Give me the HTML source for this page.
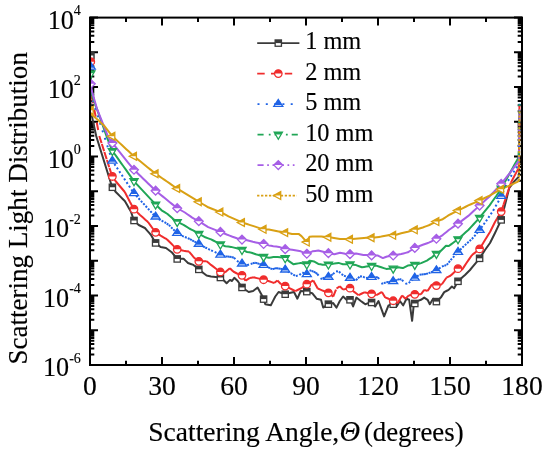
<!DOCTYPE html>
<html><head><meta charset="utf-8"><style>html,body{margin:0;padding:0;background:#fff;}svg{display:block;}</style></head>
<body><svg width="550" height="452" viewBox="0 0 550 452"><defs><clipPath id="pc"><rect x="90.0" y="17.6" width="432.0" height="347.4"/></clipPath></defs><rect width="550" height="452" fill="#fff"/><path d="M90.0,365.00h8M522.0,365.00h-8M90.0,354.54h4.3M522.0,354.54h-4.3M90.0,348.42h4.3M522.0,348.42h-4.3M90.0,344.08h4.3M522.0,344.08h-4.3M90.0,340.72h4.3M522.0,340.72h-4.3M90.0,337.97h4.3M522.0,337.97h-4.3M90.0,335.64h4.3M522.0,335.64h-4.3M90.0,333.63h4.3M522.0,333.63h-4.3M90.0,331.85h4.3M522.0,331.85h-4.3M90.0,330.26h8M522.0,330.26h-8M90.0,319.80h4.3M522.0,319.80h-4.3M90.0,313.68h4.3M522.0,313.68h-4.3M90.0,309.34h4.3M522.0,309.34h-4.3M90.0,305.98h4.3M522.0,305.98h-4.3M90.0,303.23h4.3M522.0,303.23h-4.3M90.0,300.90h4.3M522.0,300.90h-4.3M90.0,298.89h4.3M522.0,298.89h-4.3M90.0,297.11h4.3M522.0,297.11h-4.3M90.0,295.52h8M522.0,295.52h-8M90.0,285.06h4.3M522.0,285.06h-4.3M90.0,278.94h4.3M522.0,278.94h-4.3M90.0,274.60h4.3M522.0,274.60h-4.3M90.0,271.24h4.3M522.0,271.24h-4.3M90.0,268.49h4.3M522.0,268.49h-4.3M90.0,266.16h4.3M522.0,266.16h-4.3M90.0,264.15h4.3M522.0,264.15h-4.3M90.0,262.37h4.3M522.0,262.37h-4.3M90.0,260.78h8M522.0,260.78h-8M90.0,250.32h4.3M522.0,250.32h-4.3M90.0,244.20h4.3M522.0,244.20h-4.3M90.0,239.86h4.3M522.0,239.86h-4.3M90.0,236.50h4.3M522.0,236.50h-4.3M90.0,233.75h4.3M522.0,233.75h-4.3M90.0,231.42h4.3M522.0,231.42h-4.3M90.0,229.41h4.3M522.0,229.41h-4.3M90.0,227.63h4.3M522.0,227.63h-4.3M90.0,226.04h8M522.0,226.04h-8M90.0,215.58h4.3M522.0,215.58h-4.3M90.0,209.46h4.3M522.0,209.46h-4.3M90.0,205.12h4.3M522.0,205.12h-4.3M90.0,201.76h4.3M522.0,201.76h-4.3M90.0,199.01h4.3M522.0,199.01h-4.3M90.0,196.68h4.3M522.0,196.68h-4.3M90.0,194.67h4.3M522.0,194.67h-4.3M90.0,192.89h4.3M522.0,192.89h-4.3M90.0,191.30h8M522.0,191.30h-8M90.0,180.84h4.3M522.0,180.84h-4.3M90.0,174.72h4.3M522.0,174.72h-4.3M90.0,170.38h4.3M522.0,170.38h-4.3M90.0,167.02h4.3M522.0,167.02h-4.3M90.0,164.27h4.3M522.0,164.27h-4.3M90.0,161.94h4.3M522.0,161.94h-4.3M90.0,159.93h4.3M522.0,159.93h-4.3M90.0,158.15h4.3M522.0,158.15h-4.3M90.0,156.56h8M522.0,156.56h-8M90.0,146.10h4.3M522.0,146.10h-4.3M90.0,139.98h4.3M522.0,139.98h-4.3M90.0,135.64h4.3M522.0,135.64h-4.3M90.0,132.28h4.3M522.0,132.28h-4.3M90.0,129.53h4.3M522.0,129.53h-4.3M90.0,127.20h4.3M522.0,127.20h-4.3M90.0,125.19h4.3M522.0,125.19h-4.3M90.0,123.41h4.3M522.0,123.41h-4.3M90.0,121.82h8M522.0,121.82h-8M90.0,111.36h4.3M522.0,111.36h-4.3M90.0,105.24h4.3M522.0,105.24h-4.3M90.0,100.90h4.3M522.0,100.90h-4.3M90.0,97.54h4.3M522.0,97.54h-4.3M90.0,94.79h4.3M522.0,94.79h-4.3M90.0,92.46h4.3M522.0,92.46h-4.3M90.0,90.45h4.3M522.0,90.45h-4.3M90.0,88.67h4.3M522.0,88.67h-4.3M90.0,87.08h8M522.0,87.08h-8M90.0,76.62h4.3M522.0,76.62h-4.3M90.0,70.50h4.3M522.0,70.50h-4.3M90.0,66.16h4.3M522.0,66.16h-4.3M90.0,62.80h4.3M522.0,62.80h-4.3M90.0,60.05h4.3M522.0,60.05h-4.3M90.0,57.72h4.3M522.0,57.72h-4.3M90.0,55.71h4.3M522.0,55.71h-4.3M90.0,53.93h4.3M522.0,53.93h-4.3M90.0,52.34h8M522.0,52.34h-8M90.0,41.88h4.3M522.0,41.88h-4.3M90.0,35.76h4.3M522.0,35.76h-4.3M90.0,31.42h4.3M522.0,31.42h-4.3M90.0,28.06h4.3M522.0,28.06h-4.3M90.0,25.31h4.3M522.0,25.31h-4.3M90.0,22.98h4.3M522.0,22.98h-4.3M90.0,20.97h4.3M522.0,20.97h-4.3M90.0,19.19h4.3M522.0,19.19h-4.3M90.0,17.60h8M522.0,17.60h-8M90.00,365.0v-8M90.00,17.6v8M126.00,365.0v-4.3M126.00,17.6v4.3M162.00,365.0v-8M162.00,17.6v8M198.00,365.0v-4.3M198.00,17.6v4.3M234.00,365.0v-8M234.00,17.6v8M270.00,365.0v-4.3M270.00,17.6v4.3M306.00,365.0v-8M306.00,17.6v8M342.00,365.0v-4.3M342.00,17.6v4.3M378.00,365.0v-8M378.00,17.6v8M414.00,365.0v-4.3M414.00,17.6v4.3M450.00,365.0v-8M450.00,17.6v8M486.00,365.0v-4.3M486.00,17.6v4.3M522.00,365.0v-8M522.00,17.6v8" stroke="#000" stroke-width="2" fill="none"/><g clip-path="url(#pc)"><path d="M519.00,176.50L519.50,112.00" fill="none" stroke="#3a3a3a" stroke-width="2.0"/><polyline points="90.80,55.50 90.40,100.00 91.00,112.00 93.60,124.00 96.20,136.00 98.46,143.24 100.71,150.49 102.97,157.73 105.23,164.97 107.49,172.21 109.74,179.46 112.00,186.70 115.50,191.70 117.83,194.02 120.15,196.35 122.47,198.68 124.80,201.00 126.87,204.60 128.93,208.20 131.00,211.80 133.80,220.30 136.25,222.65 138.70,225.00 140.77,226.00 142.83,227.00 144.90,228.00 146.93,230.33 148.97,232.67 151.00,235.00 153.15,238.85 155.30,242.70 157.95,244.85 160.60,247.00 163.30,247.50 166.00,248.00 169.00,250.25 172.00,252.50 174.70,255.85 177.40,259.20 179.47,259.03 181.53,258.87 183.60,258.70 185.80,260.85 188.00,263.00 190.70,263.95 193.40,264.90 196.05,267.10 198.70,269.30 201.33,271.37 203.97,273.43 206.60,275.50 208.80,275.95 211.00,276.40 213.35,276.67 215.70,276.95 218.05,277.23 220.40,277.50 223.50,280.00 226.60,283.20 230.00,279.90 232.00,281.00 234.30,277.70 237.70,281.00 239.90,284.30 242.10,287.60 244.30,289.07 246.50,290.53 248.70,292.00 250.90,291.50 253.10,291.00 255.35,289.30 257.60,287.60 260.35,292.60 263.10,297.60 265.30,304.20 268.05,304.75 270.80,305.30 273.05,300.90 275.30,296.50 278.60,292.00 280.80,292.73 283.00,293.47 285.20,294.20 287.40,293.60 289.60,293.00 291.80,292.50 294.00,292.00 297.40,298.70 300.70,291.00 303.55,291.25 306.40,291.50 309.30,292.35 312.20,293.20 314.40,295.95 316.60,298.70 318.80,299.25 321.00,299.80 323.20,307.60 325.75,305.90 328.30,304.20 330.75,303.65 333.20,303.10 336.50,307.60 339.80,301.00 343.10,296.50 346.50,299.80 348.45,299.80 350.40,299.80 353.10,306.50 356.40,297.60 358.60,299.30 360.80,301.00 363.05,302.60 365.30,304.20 368.25,303.10 371.20,302.00 373.20,304.25 375.20,306.50 378.50,301.00 381.30,308.70 384.10,316.40 386.30,310.90 388.50,305.40 390.90,304.80 393.30,304.20 396.60,306.50 399.90,301.00 403.20,305.40 406.50,298.70 409.20,299.80 412.10,320.80 413.60,306.50 415.40,302.00 418.15,300.90 420.90,299.80 424.20,297.60 427.60,299.80 429.80,304.20 433.10,298.70 436.40,301.60 438.60,299.60 440.80,297.60 444.20,292.10 446.40,291.00 448.60,289.90 451.90,286.50 454.10,288.30 456.05,284.80 458.00,281.30 460.33,279.20 462.67,277.10 465.00,275.00 467.50,272.50 470.00,270.00 472.32,267.20 474.65,264.40 476.98,261.60 479.30,258.80 482.15,254.40 485.00,250.00 487.50,246.50 490.00,243.00 492.50,238.00 495.00,233.00 497.07,228.63 499.13,224.27 501.20,219.90 503.90,209.20 506.60,198.50 509.30,187.80 511.60,184.80 513.90,181.80 516.45,179.15 519.00,176.50" fill="none" stroke="#3a3a3a" stroke-width="2.0" stroke-linejoin="round"/><path d="M518.80,167.70L519.50,99.10" fill="none" stroke="#f02d2d" stroke-width="2.0" stroke-dasharray="7.5 6.3"/><path d="M90.80,61.70L90.40,88.00M90.40,88.00L91.80,96.00M91.80,96.00L94.30,109.33M94.30,109.33L96.80,122.67M96.80,122.67L99.30,136.00M99.30,136.00L101.84,143.98M101.84,143.98L104.38,151.96M104.38,151.96L106.92,159.94M106.92,159.94L109.46,167.92M109.46,167.92L112.00,175.90M112.00,175.90L115.50,181.00M115.50,181.00L117.83,183.75M117.83,183.75L120.15,186.50M120.15,186.50L122.47,189.25M122.47,189.25L124.80,192.00M124.80,192.00L127.40,197.00M127.40,197.00L130.00,202.00M130.00,202.00L131.90,205.50M131.90,205.50L133.80,209.00M133.80,209.00L135.87,211.00M135.87,211.00L137.93,213.00M137.93,213.00L140.00,215.00M140.00,215.00L142.67,217.33M142.67,217.33L145.33,219.67M145.33,219.67L148.00,222.00M148.00,222.00L150.43,225.37M150.43,225.37L152.87,228.73M152.87,228.73L155.30,232.10M155.30,232.10L157.95,233.90M157.95,233.90L160.60,235.70M160.60,235.70L162.67,236.87M162.67,236.87L164.73,238.03M164.73,238.03L166.80,239.20M166.80,239.20L168.87,241.27M168.87,241.27L170.93,243.33M170.93,243.33L173.00,245.40M173.00,245.40L174.95,247.35M174.95,247.35L176.90,249.30M176.90,249.30L179.13,249.77M179.13,249.77L181.37,250.23M181.37,250.23L183.60,250.70M183.60,250.70L186.30,251.15M186.30,251.15L189.00,251.60M189.00,251.60L191.60,254.70M191.60,254.70L194.20,257.80M194.20,257.80L196.45,259.55M196.45,259.55L198.70,261.30M198.70,261.30L201.33,261.30M201.33,261.30L203.97,261.30M203.97,261.30L206.60,261.30M206.60,261.30L208.80,263.10M208.80,263.10L211.00,264.90M211.00,264.90L213.35,266.67M213.35,266.67L215.70,268.45M215.70,268.45L218.05,270.23M218.05,270.23L220.40,272.00M220.40,272.00L222.70,272.20M222.70,272.20L225.00,272.40M225.00,272.40L227.45,270.35M227.45,270.35L229.90,268.30M229.90,268.30L233.20,271.50M233.20,271.50L235.10,272.50M235.10,272.50L237.00,273.50M237.00,273.50L239.55,274.45M239.55,274.45L242.10,275.40M242.10,275.40L245.50,280.60M245.50,280.60L247.50,279.35M247.50,279.35L249.50,278.10M249.50,278.10L251.55,277.70M251.55,277.70L253.60,277.30M253.60,277.30L256.90,278.10M256.90,278.10L259.10,278.63M259.10,278.63L261.30,279.17M261.30,279.17L263.50,279.70M263.50,279.70L266.35,280.45M266.35,280.45L269.20,281.20M269.20,281.20L271.65,282.10M271.65,282.10L274.10,283.00M274.10,283.00L277.40,280.50M277.40,280.50L280.60,283.80M280.60,283.80L283.10,285.05M283.10,285.05L285.60,286.30M285.60,286.30L287.77,287.37M287.77,287.37L289.93,288.43M289.93,288.43L292.10,289.50M292.10,289.50L295.40,291.20M295.40,291.20L298.60,289.50M298.60,289.50L301.90,287.90M301.90,287.90L304.05,286.20M304.05,286.20L306.20,284.50M306.20,284.50L308.57,283.13M308.57,283.13L310.93,281.77M310.93,281.77L313.30,280.40M313.30,280.40L315.50,284.45M315.50,284.45L317.70,288.50M317.70,288.50L320.45,289.65M320.45,289.65L323.20,290.80M323.20,290.80L326.00,291.90M326.00,291.90L328.80,293.00M328.80,293.00L331.00,294.85M331.00,294.85L333.20,296.70M333.20,296.70L336.50,288.50M336.50,288.50L339.80,286.30M339.80,286.30L343.10,289.60M343.10,289.60L345.33,289.07M345.33,289.07L347.57,288.53M347.57,288.53L349.80,288.00M349.80,288.00L352.00,289.95M352.00,289.95L354.20,291.90M354.20,291.90L356.40,293.55M356.40,293.55L358.60,295.20M358.60,295.20L361.40,293.75M361.40,293.75L364.20,292.30M364.20,292.30L366.40,292.73M366.40,292.73L368.60,293.17M368.60,293.17L370.80,293.60M370.80,293.60L373.55,294.40M373.55,294.40L376.30,295.20M376.30,295.20L379.10,293.55M379.10,293.55L381.90,291.90M381.90,291.90L385.20,297.40M385.20,297.40L387.90,298.53M387.90,298.53L390.60,299.67M390.60,299.67L393.30,300.80M393.30,300.80L395.50,301.95M395.50,301.95L397.70,303.10M397.70,303.10L399.90,299.25M399.90,299.25L402.10,295.40M402.10,295.40L405.40,298.70M405.40,298.70L408.80,295.40M408.80,295.40L410.87,295.03M410.87,295.03L412.93,294.67M412.93,294.67L415.00,294.30M415.00,294.30L417.95,294.30M417.95,294.30L420.90,294.30M420.90,294.30L424.20,289.90M424.20,289.90L427.60,291.00M427.60,291.00L429.80,287.65M429.80,287.65L432.00,284.30M432.00,284.30L434.20,284.95M434.20,284.95L436.40,285.60M436.40,285.60L439.15,284.95M439.15,284.95L441.90,284.30M441.90,284.30L444.15,281.00M444.15,281.00L446.40,277.70M446.40,277.70L448.60,276.60M448.60,276.60L450.80,275.50M450.80,275.50L453.20,273.23M453.20,273.23L455.60,270.97M455.60,270.97L458.00,268.70M458.00,268.70L459.95,269.35M459.95,269.35L461.90,270.00M461.90,270.00L464.10,266.65M464.10,266.65L466.30,263.30M466.30,263.30L469.15,259.15M469.15,259.15L472.00,255.00M472.00,255.00L474.43,253.13M474.43,253.13L476.87,251.27M476.87,251.27L479.30,249.40M479.30,249.40L482.15,244.70M482.15,244.70L485.00,240.00M485.00,240.00L487.50,236.00M487.50,236.00L490.00,232.00M490.00,232.00L492.50,227.00M492.50,227.00L495.00,222.00M495.00,222.00L497.07,218.53M497.07,218.53L499.13,215.07M499.13,215.07L501.20,211.60M501.20,211.60L503.65,204.32M503.65,204.32L506.10,197.05M506.10,197.05L508.55,189.78M508.55,189.78L511.00,182.50M511.00,182.50L513.60,177.57M513.60,177.57L516.20,172.63M516.20,172.63L518.80,167.70" fill="none" stroke="#f02d2d" stroke-width="2.0" stroke-dasharray="7.5 6.3"/><path d="M518.80,163.90L519.50,102.20" fill="none" stroke="#1f63e6" stroke-width="2.0" stroke-dasharray="2 6.3"/><path d="M90.80,66.90L90.40,92.90M90.40,92.90L92.80,100.39M92.80,100.39L95.20,107.88M95.20,107.88L97.60,115.37M97.60,115.37L100.00,122.86M100.00,122.86L102.40,130.34M102.40,130.34L104.80,137.83M104.80,137.83L107.20,145.32M107.20,145.32L109.60,152.81M109.60,152.81L112.00,160.30M112.00,160.30L114.42,163.94M114.42,163.94L116.84,167.59M116.84,167.59L119.27,171.23M119.27,171.23L121.69,174.88M121.69,174.88L124.11,178.52M124.11,178.52L126.53,182.17M126.53,182.17L128.96,185.81M128.96,185.81L131.38,189.46M131.38,189.46L133.80,193.10M133.80,193.10L136.17,195.68M136.17,195.68L138.53,198.26M138.53,198.26L140.90,200.83M140.90,200.83L143.27,203.41M143.27,203.41L145.63,205.99M145.63,205.99L148.00,208.57M148.00,208.57L150.37,211.14M150.37,211.14L152.73,213.72M152.73,213.72L155.10,216.30M155.10,216.30L158.70,219.20M158.70,219.20L161.60,220.65M161.60,220.65L164.50,222.10M164.50,222.10L166.70,223.55M166.70,223.55L168.90,225.00M168.90,225.00L171.10,227.20M171.10,227.20L173.30,229.40M173.30,229.40L176.90,233.00M176.90,233.00L179.45,234.45M179.45,234.45L182.00,235.90M182.00,235.90L184.90,237.00M184.90,237.00L187.80,238.10M187.80,238.10L190.00,239.20M190.00,239.20L192.20,240.30M192.20,240.30L194.37,241.50M194.37,241.50L196.53,242.70M196.53,242.70L198.70,243.90M198.70,243.90L200.90,245.10M200.90,245.10L203.10,246.30M203.10,246.30L205.30,247.50M205.30,247.50L208.20,248.95M208.20,248.95L211.10,250.40M211.10,250.40L214.70,251.90M214.70,251.90L217.60,253.35M217.60,253.35L220.50,254.80M220.50,254.80L222.90,255.60M222.90,255.60L225.30,256.40M225.30,256.40L227.45,256.55M227.45,256.55L229.60,256.70M229.60,256.70L231.80,257.15M231.80,257.15L234.00,257.60M234.00,257.60L236.90,260.80M236.90,260.80L239.45,262.25M239.45,262.25L242.00,263.70M242.00,263.70L244.55,264.45M244.55,264.45L247.10,265.20M247.10,265.20L250.70,264.00M250.70,264.00L252.90,263.30M252.90,263.30L255.10,262.60M255.10,262.60L257.30,263.30M257.30,263.30L259.50,264.00M259.50,264.00L261.65,264.60M261.65,264.60L263.80,265.20M263.80,265.20L266.00,266.30M266.00,266.30L268.20,267.40M268.20,267.40L270.35,268.30M270.35,268.30L272.50,269.20M272.50,269.20L274.35,268.65M274.35,268.65L276.20,268.10M276.20,268.10L278.35,268.45M278.35,268.45L280.50,268.80M280.50,268.80L282.70,269.15M282.70,269.15L284.90,269.50M284.90,269.50L287.80,271.35M287.80,271.35L290.70,273.20M290.70,273.20L293.25,274.65M293.25,274.65L295.80,276.10M295.80,276.10L299.40,275.10M299.40,275.10L302.30,272.40M302.30,272.40L304.45,273.50M304.45,273.50L306.60,274.60M306.60,274.60L309.50,270.30M309.50,270.30L311.70,271.00M311.70,271.00L313.90,271.70M313.90,271.70L315.70,272.80M315.70,272.80L317.50,273.90M317.50,273.90L320.50,279.00M320.50,279.00L322.65,278.25M322.65,278.25L324.80,277.50M324.80,277.50L327.00,277.15M327.00,277.15L329.20,276.80M329.20,276.80L331.10,275.45M331.10,275.45L333.00,274.10M333.00,274.10L336.00,271.20M336.00,271.20L339.00,271.50M339.00,271.50L341.50,274.20M341.50,274.20L344.00,275.70M344.00,275.70L347.00,276.70M347.00,276.70L350.30,278.10M350.30,278.10L353.15,279.15M353.15,279.15L356.00,280.20M356.00,280.20L358.00,278.20M358.00,278.20L360.00,276.20M360.00,276.20L363.00,276.70M363.00,276.70L366.00,278.10M366.00,278.10L368.65,277.60M368.65,277.60L371.30,277.10M371.30,277.10L373.53,277.17M373.53,277.17L375.77,277.23M375.77,277.23L378.00,277.30M378.00,277.30L381.30,283.90M381.30,283.90L383.80,283.10M383.80,283.10L386.30,282.30M386.30,282.30L388.50,282.03M388.50,282.03L390.70,281.77M390.70,281.77L392.90,281.50M392.90,281.50L395.10,280.67M395.10,280.67L397.30,279.83M397.30,279.83L399.50,279.00M399.50,279.00L402.00,279.80M402.00,279.80L405.30,283.90M405.30,283.90L408.70,283.10M408.70,283.10L411.60,280.60M411.60,280.60L414.50,278.10M414.50,278.10L417.00,276.45M417.00,276.45L419.50,274.80M419.50,274.80L421.70,274.53M421.70,274.53L423.90,274.27M423.90,274.27L426.10,274.00M426.10,274.00L428.60,273.15M428.60,273.15L431.10,272.30M431.10,272.30L433.55,271.50M433.55,271.50L436.00,270.70M436.00,270.70L438.95,268.60M438.95,268.60L441.90,266.50M441.90,266.50L444.35,265.70M444.35,265.70L446.80,264.90M446.80,264.90L448.70,262.55M448.70,262.55L450.60,260.20M450.60,260.20L452.97,257.57M452.97,257.57L455.33,254.93M455.33,254.93L457.70,252.30M457.70,252.30L460.07,249.93M460.07,249.93L462.43,247.57M462.43,247.57L464.80,245.20M464.80,245.20L467.17,243.13M467.17,243.13L469.53,241.07M469.53,241.07L471.90,239.00M471.90,239.00L474.23,236.33M474.23,236.33L476.57,233.67M476.57,233.67L478.90,231.00M478.90,231.00L481.27,227.77M481.27,227.77L483.63,224.53M483.63,224.53L486.00,221.30M486.00,221.30L488.37,217.77M488.37,217.77L490.73,214.23M490.73,214.23L493.10,210.70M493.10,210.70L495.47,206.57M495.47,206.57L497.83,202.43M497.83,202.43L500.20,198.30M500.20,198.30L502.80,192.50M502.80,192.50L505.40,186.70M505.40,186.70L508.00,180.90M508.00,180.90L510.70,176.65M510.70,176.65L513.40,172.40M513.40,172.40L516.10,168.15M516.10,168.15L518.80,163.90" fill="none" stroke="#1f63e6" stroke-width="2.0" stroke-dasharray="2 6.3"/><path d="M518.60,157.40L519.50,104.30" fill="none" stroke="#20a656" stroke-width="2.0" stroke-dasharray="6.1 5.2 1.8 4.0"/><polyline points="90.80,73.30 91.20,88.80 92.60,96.80 94.97,103.47 97.33,110.13 99.70,116.80 102.07,123.47 104.43,130.13 106.80,136.80 109.40,143.55 112.00,150.30 114.28,153.49 116.56,156.68 118.84,159.87 121.12,163.06 123.40,166.25 125.68,169.44 127.96,172.63 130.24,175.82 132.52,179.01 134.80,182.20 137.13,184.69 139.47,187.18 141.80,189.67 144.13,192.16 146.47,194.64 148.80,197.13 151.13,199.62 153.47,202.11 155.80,204.60 158.70,207.45 161.60,210.30 164.55,212.15 167.50,214.00 170.40,216.55 173.30,219.10 175.35,220.55 177.40,222.00 179.43,222.97 181.47,223.93 183.50,224.90 186.40,226.70 189.30,228.50 191.45,229.60 193.60,230.70 196.15,232.25 198.70,233.80 200.90,234.97 203.10,236.13 205.30,237.30 208.20,238.35 211.10,239.40 213.30,240.50 215.50,241.60 218.20,243.10 220.90,244.60 223.10,245.40 225.30,246.20 228.20,246.55 231.10,246.90 234.00,247.60 236.90,248.30 239.45,249.05 242.00,249.80 244.55,250.90 247.10,252.00 249.30,252.35 251.50,252.70 253.65,253.45 255.80,254.20 258.00,254.90 260.20,255.60 262.00,256.20 263.80,256.80 266.35,257.30 268.90,257.80 271.10,257.45 273.30,257.10 275.45,257.10 277.60,257.10 280.03,257.33 282.47,257.57 284.90,257.80 287.10,259.60 289.30,261.40 291.45,262.85 293.60,264.30 296.00,263.83 298.40,263.37 300.80,262.90 303.70,263.75 306.60,264.60 309.50,260.70 311.70,261.05 313.90,261.40 316.10,262.65 318.30,263.90 320.45,264.35 322.60,264.80 324.80,264.63 327.00,264.47 329.20,264.30 331.75,263.95 334.30,263.60 336.45,263.25 338.60,262.90 340.80,263.60 343.00,264.30 345.43,264.30 347.87,264.30 350.30,264.30 353.20,264.70 356.10,265.10 359.00,266.20 361.90,267.30 364.10,266.90 366.30,266.50 368.85,266.15 371.40,265.80 373.85,265.70 376.30,265.60 378.80,266.45 381.30,267.30 383.80,268.10 386.30,268.90 388.50,268.80 390.70,268.70 392.90,268.60 395.80,267.95 398.70,267.30 400.80,267.70 402.90,268.10 405.35,266.85 407.80,265.60 410.03,265.33 412.27,265.07 414.50,264.80 416.70,264.23 418.90,263.67 421.10,263.10 424.00,261.85 426.90,260.60 429.40,258.95 431.90,257.30 433.95,255.65 436.00,254.00 438.50,252.35 441.00,250.70 443.50,248.20 446.00,245.70 448.80,246.00 451.02,244.35 453.25,242.70 455.48,241.05 457.70,239.40 460.35,237.05 463.00,234.70 465.65,232.35 468.30,230.00 470.95,227.12 473.60,224.25 476.25,221.38 478.90,218.50 481.57,215.20 484.25,211.90 486.93,208.60 489.60,205.30 491.93,202.03 494.27,198.77 496.60,195.50 498.70,192.40 500.80,189.30 503.10,185.18 505.40,181.05 507.70,176.93 510.00,172.80 512.15,168.95 514.30,165.10 516.45,161.25 518.60,157.40" fill="none" stroke="#20a656" stroke-width="2.0" stroke-linejoin="round"/><path d="M518.80,161.00L519.50,106.90" fill="none" stroke="#a65ee6" stroke-width="2.0" stroke-dasharray="6.1 3.6 1.7 3.6 1.7 3.6"/><polyline points="90.80,83.80 91.80,90.80 93.50,96.80 97.00,108.80 100.00,116.30 103.00,123.80 105.55,130.30 108.10,136.80 110.05,139.65 112.00,142.50 114.38,145.47 116.76,148.43 119.13,151.40 121.51,154.37 123.89,157.33 126.27,160.30 128.64,163.27 131.02,166.23 133.40,169.20 135.86,171.58 138.31,173.96 140.77,176.33 143.22,178.71 145.68,181.09 148.13,183.47 150.59,185.84 153.04,188.22 155.50,190.60 157.88,192.53 160.26,194.47 162.63,196.40 165.01,198.33 167.39,200.27 169.77,202.20 172.14,204.13 174.52,206.07 176.90,208.00 179.57,209.50 182.23,211.00 184.90,212.50 187.33,214.20 189.77,215.90 192.20,217.60 194.37,218.77 196.53,219.93 198.70,221.10 201.07,222.60 203.45,224.10 205.82,225.60 208.20,227.10 210.74,228.10 213.28,229.10 215.82,230.10 218.36,231.10 220.90,232.10 223.80,233.30 226.70,234.50 229.60,235.60 232.50,236.70 234.70,237.45 236.90,238.20 239.45,238.90 242.00,239.60 244.55,239.95 247.10,240.30 250.00,241.05 252.90,241.80 255.80,242.40 258.70,243.00 261.25,243.50 263.80,244.00 266.35,244.70 268.90,245.40 271.10,245.80 273.30,246.20 276.20,246.55 279.10,246.90 282.00,248.00 284.90,249.10 287.33,249.33 289.77,249.57 292.20,249.80 295.10,250.30 298.00,250.80 300.80,251.30 303.70,252.55 306.60,253.80 309.55,252.55 312.50,251.30 315.40,250.90 318.30,250.50 321.20,251.25 324.10,252.00 326.65,252.70 329.20,253.40 331.75,253.80 334.30,254.20 337.20,253.45 340.10,252.70 342.65,253.20 345.20,253.70 347.75,253.95 350.30,254.20 353.20,253.80 356.10,253.40 358.53,253.90 360.97,254.40 363.40,254.90 366.07,255.07 368.73,255.23 371.40,255.40 373.60,255.47 375.80,255.53 378.00,255.60 380.45,256.85 382.90,258.10 385.00,257.30 387.10,256.50 390.00,256.05 392.90,255.60 395.67,255.07 398.43,254.53 401.20,254.00 403.40,253.43 405.60,252.87 407.80,252.30 410.30,250.73 412.80,249.17 415.30,247.60 417.80,246.67 420.30,245.73 422.80,244.80 425.00,244.00 427.20,243.20 429.40,242.40 431.60,241.27 433.80,240.13 436.00,239.00 438.95,237.35 441.90,235.70 444.20,233.80 446.50,231.90 448.80,230.00 451.02,228.47 453.25,226.95 455.48,225.43 457.70,223.90 460.35,221.90 463.00,219.90 465.65,217.90 468.30,215.90 470.95,213.48 473.60,211.05 476.25,208.62 478.90,206.20 481.57,203.75 484.25,201.30 486.93,198.85 489.60,196.40 491.84,193.98 494.08,191.56 496.32,189.14 498.56,186.72 500.80,184.30 503.10,181.43 505.40,178.55 507.70,175.68 510.00,172.80 512.20,169.85 514.40,166.90 516.60,163.95 518.80,161.00" fill="none" stroke="#a65ee6" stroke-width="2.0" stroke-linejoin="round"/><path d="M519.10,180.90L519.50,109.30" fill="none" stroke="#d9a014" stroke-width="2.0" stroke-dasharray="2.3 1.65"/><polyline points="90.80,110.20 90.80,113.70 93.38,116.00 95.96,118.30 98.54,120.60 101.12,122.90 103.70,125.20 105.83,127.92 107.95,130.65 110.08,133.38 112.20,136.10 114.54,138.28 116.89,140.46 119.23,142.63 121.58,144.81 123.92,146.99 126.27,149.17 128.61,151.34 130.96,153.52 133.30,155.70 135.71,157.66 138.12,159.61 140.53,161.57 142.94,163.52 145.36,165.48 147.77,167.43 150.18,169.39 152.59,171.34 155.00,173.30 157.39,174.94 159.78,176.59 162.17,178.23 164.56,179.88 166.94,181.52 169.33,183.17 171.72,184.81 174.11,186.46 176.50,188.10 178.97,189.61 181.43,191.12 183.90,192.63 186.37,194.14 188.83,195.66 191.30,197.17 193.77,198.68 196.23,200.19 198.70,201.70 201.07,203.10 203.45,204.50 205.82,205.90 208.20,207.30 210.66,208.26 213.12,209.22 215.58,210.18 218.04,211.14 220.50,212.10 223.17,213.50 225.83,214.90 228.50,216.30 230.77,217.33 233.03,218.37 235.30,219.40 237.57,220.43 239.83,221.47 242.10,222.50 244.56,223.28 247.02,224.06 249.48,224.84 251.94,225.62 254.40,226.40 256.57,227.12 258.75,227.85 260.93,228.58 263.10,229.30 266.00,229.40 268.90,229.50 271.33,230.00 273.77,230.50 276.20,231.00 278.55,231.43 280.90,231.85 283.25,232.28 285.60,232.70 287.73,233.10 289.87,233.50 292.00,233.90 294.20,233.90 296.40,233.90 298.60,233.90 301.50,236.10 304.15,239.10 306.80,242.10 309.50,236.80 312.45,236.60 315.40,236.40 318.30,236.45 321.20,236.50 323.67,236.77 326.13,237.03 328.60,237.30 331.30,237.60 334.00,237.90 337.00,238.40 340.00,238.90 342.45,239.00 344.90,239.10 347.35,239.20 349.80,239.30 352.53,239.00 355.27,238.70 358.00,238.40 361.00,238.15 364.00,237.90 366.20,237.83 368.40,237.77 370.60,237.70 372.60,237.60 374.60,237.50 376.83,237.20 379.07,236.90 381.30,236.60 384.07,236.07 386.83,235.53 389.60,235.00 391.65,235.20 393.70,235.40 396.20,234.70 398.70,234.00 401.20,233.30 403.40,232.77 405.60,232.23 407.80,231.70 410.30,231.03 412.80,230.37 415.30,229.70 417.80,228.97 420.30,228.23 422.80,227.50 425.00,226.67 427.20,225.83 429.40,225.00 431.60,223.90 433.80,222.80 436.00,221.70 438.23,220.87 440.47,220.03 442.70,219.20 444.73,217.83 446.77,216.47 448.80,215.10 451.02,214.00 453.25,212.90 455.48,211.80 457.70,210.70 460.35,209.38 463.00,208.05 465.65,206.73 468.30,205.40 470.95,204.28 473.60,203.15 476.25,202.03 478.90,200.90 481.57,199.57 484.25,198.25 486.93,196.93 489.60,195.60 491.78,194.38 493.96,193.16 496.14,191.94 498.32,190.72 500.50,189.50 502.88,188.47 505.25,187.45 507.62,186.43 510.00,185.40 512.27,184.28 514.55,183.15 516.83,182.03 519.10,180.90" fill="none" stroke="#d9a014" stroke-width="2.0" stroke-linejoin="round"/><rect x="87.65" y="52.35" width="6.30" height="6.30" fill="#fff" stroke="#3a3a3a" stroke-width="1.3"/><rect x="87.65" y="52.35" width="6.30" height="3.15" fill="#3a3a3a"/><rect x="109.25" y="184.12" width="6.30" height="6.30" fill="#fff" stroke="#3a3a3a" stroke-width="1.3"/><rect x="109.25" y="184.12" width="6.30" height="3.15" fill="#3a3a3a"/><rect x="130.85" y="217.34" width="6.30" height="6.30" fill="#fff" stroke="#3a3a3a" stroke-width="1.3"/><rect x="130.85" y="217.34" width="6.30" height="3.15" fill="#3a3a3a"/><rect x="152.45" y="239.79" width="6.30" height="6.30" fill="#fff" stroke="#3a3a3a" stroke-width="1.3"/><rect x="152.45" y="239.79" width="6.30" height="3.15" fill="#3a3a3a"/><rect x="174.05" y="255.80" width="6.30" height="6.30" fill="#fff" stroke="#3a3a3a" stroke-width="1.3"/><rect x="174.05" y="255.80" width="6.30" height="3.15" fill="#3a3a3a"/><rect x="195.65" y="266.23" width="6.30" height="6.30" fill="#fff" stroke="#3a3a3a" stroke-width="1.3"/><rect x="195.65" y="266.23" width="6.30" height="3.15" fill="#3a3a3a"/><rect x="217.25" y="274.35" width="6.30" height="6.30" fill="#fff" stroke="#3a3a3a" stroke-width="1.3"/><rect x="217.25" y="274.35" width="6.30" height="3.15" fill="#3a3a3a"/><rect x="238.85" y="284.30" width="6.30" height="6.30" fill="#fff" stroke="#3a3a3a" stroke-width="1.3"/><rect x="238.85" y="284.30" width="6.30" height="3.15" fill="#3a3a3a"/><rect x="260.45" y="295.95" width="6.30" height="6.30" fill="#fff" stroke="#3a3a3a" stroke-width="1.3"/><rect x="260.45" y="295.95" width="6.30" height="3.15" fill="#3a3a3a"/><rect x="282.05" y="291.05" width="6.30" height="6.30" fill="#fff" stroke="#3a3a3a" stroke-width="1.3"/><rect x="282.05" y="291.05" width="6.30" height="3.15" fill="#3a3a3a"/><rect x="303.65" y="288.47" width="6.30" height="6.30" fill="#fff" stroke="#3a3a3a" stroke-width="1.3"/><rect x="303.65" y="288.47" width="6.30" height="3.15" fill="#3a3a3a"/><rect x="325.25" y="301.03" width="6.30" height="6.30" fill="#fff" stroke="#3a3a3a" stroke-width="1.3"/><rect x="325.25" y="301.03" width="6.30" height="3.15" fill="#3a3a3a"/><rect x="346.85" y="296.65" width="6.30" height="6.30" fill="#fff" stroke="#3a3a3a" stroke-width="1.3"/><rect x="346.85" y="296.65" width="6.30" height="3.15" fill="#3a3a3a"/><rect x="368.45" y="299.30" width="6.30" height="6.30" fill="#fff" stroke="#3a3a3a" stroke-width="1.3"/><rect x="368.45" y="299.30" width="6.30" height="3.15" fill="#3a3a3a"/><rect x="390.05" y="301.07" width="6.30" height="6.30" fill="#fff" stroke="#3a3a3a" stroke-width="1.3"/><rect x="390.05" y="301.07" width="6.30" height="3.15" fill="#3a3a3a"/><rect x="411.65" y="300.35" width="6.30" height="6.30" fill="#fff" stroke="#3a3a3a" stroke-width="1.3"/><rect x="411.65" y="300.35" width="6.30" height="3.15" fill="#3a3a3a"/><rect x="433.25" y="298.45" width="6.30" height="6.30" fill="#fff" stroke="#3a3a3a" stroke-width="1.3"/><rect x="433.25" y="298.45" width="6.30" height="3.15" fill="#3a3a3a"/><rect x="454.85" y="278.15" width="6.30" height="6.30" fill="#fff" stroke="#3a3a3a" stroke-width="1.3"/><rect x="454.85" y="278.15" width="6.30" height="3.15" fill="#3a3a3a"/><rect x="476.45" y="255.19" width="6.30" height="6.30" fill="#fff" stroke="#3a3a3a" stroke-width="1.3"/><rect x="476.45" y="255.19" width="6.30" height="3.15" fill="#3a3a3a"/><rect x="498.05" y="216.75" width="6.30" height="6.30" fill="#fff" stroke="#3a3a3a" stroke-width="1.3"/><rect x="498.05" y="216.75" width="6.30" height="3.15" fill="#3a3a3a"/><circle cx="90.80" cy="61.70" r="3.75" fill="#fff" stroke="#f02d2d" stroke-width="1.3"/><path d="M87.05,61.70 A3.75,3.75 0 0 1 94.55,61.70 Z" fill="#f02d2d"/><circle cx="112.40" cy="176.48" r="3.75" fill="#fff" stroke="#f02d2d" stroke-width="1.3"/><path d="M108.65,176.48 A3.75,3.75 0 0 1 116.15,176.48 Z" fill="#f02d2d"/><circle cx="134.00" cy="209.19" r="3.75" fill="#fff" stroke="#f02d2d" stroke-width="1.3"/><path d="M130.25,209.19 A3.75,3.75 0 0 1 137.75,209.19 Z" fill="#f02d2d"/><circle cx="155.60" cy="232.30" r="3.75" fill="#fff" stroke="#f02d2d" stroke-width="1.3"/><path d="M151.85,232.30 A3.75,3.75 0 0 1 159.35,232.30 Z" fill="#f02d2d"/><circle cx="177.20" cy="249.36" r="3.75" fill="#fff" stroke="#f02d2d" stroke-width="1.3"/><path d="M173.45,249.36 A3.75,3.75 0 0 1 180.95,249.36 Z" fill="#f02d2d"/><circle cx="198.80" cy="261.30" r="3.75" fill="#fff" stroke="#f02d2d" stroke-width="1.3"/><path d="M195.05,261.30 A3.75,3.75 0 0 1 202.55,261.30 Z" fill="#f02d2d"/><circle cx="220.40" cy="272.00" r="3.75" fill="#fff" stroke="#f02d2d" stroke-width="1.3"/><path d="M216.65,272.00 A3.75,3.75 0 0 1 224.15,272.00 Z" fill="#f02d2d"/><circle cx="242.00" cy="275.36" r="3.75" fill="#fff" stroke="#f02d2d" stroke-width="1.3"/><path d="M238.25,275.36 A3.75,3.75 0 0 1 245.75,275.36 Z" fill="#f02d2d"/><circle cx="263.60" cy="279.73" r="3.75" fill="#fff" stroke="#f02d2d" stroke-width="1.3"/><path d="M259.85,279.73 A3.75,3.75 0 0 1 267.35,279.73 Z" fill="#f02d2d"/><circle cx="285.20" cy="286.10" r="3.75" fill="#fff" stroke="#f02d2d" stroke-width="1.3"/><path d="M281.45,286.10 A3.75,3.75 0 0 1 288.95,286.10 Z" fill="#f02d2d"/><circle cx="306.80" cy="284.15" r="3.75" fill="#fff" stroke="#f02d2d" stroke-width="1.3"/><path d="M303.05,284.15 A3.75,3.75 0 0 1 310.55,284.15 Z" fill="#f02d2d"/><circle cx="328.40" cy="292.84" r="3.75" fill="#fff" stroke="#f02d2d" stroke-width="1.3"/><path d="M324.65,292.84 A3.75,3.75 0 0 1 332.15,292.84 Z" fill="#f02d2d"/><circle cx="350.00" cy="288.18" r="3.75" fill="#fff" stroke="#f02d2d" stroke-width="1.3"/><path d="M346.25,288.18 A3.75,3.75 0 0 1 353.75,288.18 Z" fill="#f02d2d"/><circle cx="371.60" cy="293.83" r="3.75" fill="#fff" stroke="#f02d2d" stroke-width="1.3"/><path d="M367.85,293.83 A3.75,3.75 0 0 1 375.35,293.83 Z" fill="#f02d2d"/><circle cx="393.20" cy="300.76" r="3.75" fill="#fff" stroke="#f02d2d" stroke-width="1.3"/><path d="M389.45,300.76 A3.75,3.75 0 0 1 396.95,300.76 Z" fill="#f02d2d"/><circle cx="414.80" cy="294.34" r="3.75" fill="#fff" stroke="#f02d2d" stroke-width="1.3"/><path d="M411.05,294.34 A3.75,3.75 0 0 1 418.55,294.34 Z" fill="#f02d2d"/><circle cx="436.40" cy="285.60" r="3.75" fill="#fff" stroke="#f02d2d" stroke-width="1.3"/><path d="M432.65,285.60 A3.75,3.75 0 0 1 440.15,285.60 Z" fill="#f02d2d"/><circle cx="458.00" cy="268.70" r="3.75" fill="#fff" stroke="#f02d2d" stroke-width="1.3"/><path d="M454.25,268.70 A3.75,3.75 0 0 1 461.75,268.70 Z" fill="#f02d2d"/><circle cx="479.60" cy="248.91" r="3.75" fill="#fff" stroke="#f02d2d" stroke-width="1.3"/><path d="M475.85,248.91 A3.75,3.75 0 0 1 483.35,248.91 Z" fill="#f02d2d"/><circle cx="501.20" cy="211.60" r="3.75" fill="#fff" stroke="#f02d2d" stroke-width="1.3"/><path d="M497.45,211.60 A3.75,3.75 0 0 1 504.95,211.60 Z" fill="#f02d2d"/><path d="M90.80,62.30 L95.30,69.20 L86.30,69.20 Z" fill="#fff" stroke="#1f63e6" stroke-width="1.3"/><path d="M90.80,62.30 L94.32,67.70 L87.28,67.70 Z" fill="#1f63e6"/><path d="M112.40,156.30 L116.90,163.20 L107.90,163.20 Z" fill="#fff" stroke="#1f63e6" stroke-width="1.3"/><path d="M112.40,156.30 L115.92,161.70 L108.88,161.70 Z" fill="#1f63e6"/><path d="M134.00,188.72 L138.50,195.62 L129.50,195.62 Z" fill="#fff" stroke="#1f63e6" stroke-width="1.3"/><path d="M134.00,188.72 L137.52,194.12 L130.48,194.12 Z" fill="#1f63e6"/><path d="M155.60,212.10 L160.10,219.00 L151.10,219.00 Z" fill="#fff" stroke="#1f63e6" stroke-width="1.3"/><path d="M155.60,212.10 L159.12,217.50 L152.08,217.50 Z" fill="#1f63e6"/><path d="M177.20,228.57 L181.70,235.47 L172.70,235.47 Z" fill="#fff" stroke="#1f63e6" stroke-width="1.3"/><path d="M177.20,228.57 L180.72,233.97 L173.68,233.97 Z" fill="#1f63e6"/><path d="M198.80,239.35 L203.30,246.25 L194.30,246.25 Z" fill="#fff" stroke="#1f63e6" stroke-width="1.3"/><path d="M198.80,239.35 L202.32,244.75 L195.28,244.75 Z" fill="#1f63e6"/><path d="M220.40,250.15 L224.90,257.05 L215.90,257.05 Z" fill="#fff" stroke="#1f63e6" stroke-width="1.3"/><path d="M220.40,250.15 L223.92,255.55 L216.88,255.55 Z" fill="#1f63e6"/><path d="M242.00,259.10 L246.50,266.00 L237.50,266.00 Z" fill="#fff" stroke="#1f63e6" stroke-width="1.3"/><path d="M242.00,259.10 L245.52,264.50 L238.48,264.50 Z" fill="#1f63e6"/><path d="M263.60,260.54 L268.10,267.44 L259.10,267.44 Z" fill="#fff" stroke="#1f63e6" stroke-width="1.3"/><path d="M263.60,260.54 L267.12,265.94 L260.08,265.94 Z" fill="#1f63e6"/><path d="M285.20,265.09 L289.70,271.99 L280.70,271.99 Z" fill="#fff" stroke="#1f63e6" stroke-width="1.3"/><path d="M285.20,265.09 L288.72,270.49 L281.68,270.49 Z" fill="#1f63e6"/><path d="M306.80,269.70 L311.30,276.60 L302.30,276.60 Z" fill="#fff" stroke="#1f63e6" stroke-width="1.3"/><path d="M306.80,269.70 L310.32,275.10 L303.28,275.10 Z" fill="#1f63e6"/><path d="M328.40,272.33 L332.90,279.23 L323.90,279.23 Z" fill="#fff" stroke="#1f63e6" stroke-width="1.3"/><path d="M328.40,272.33 L331.92,277.73 L324.88,277.73 Z" fill="#1f63e6"/><path d="M350.00,273.37 L354.50,280.27 L345.50,280.27 Z" fill="#fff" stroke="#1f63e6" stroke-width="1.3"/><path d="M350.00,273.37 L353.52,278.77 L346.48,278.77 Z" fill="#1f63e6"/><path d="M371.60,272.51 L376.10,279.41 L367.10,279.41 Z" fill="#fff" stroke="#1f63e6" stroke-width="1.3"/><path d="M371.60,272.51 L375.12,277.91 L368.08,277.91 Z" fill="#1f63e6"/><path d="M393.20,276.79 L397.70,283.69 L388.70,283.69 Z" fill="#fff" stroke="#1f63e6" stroke-width="1.3"/><path d="M393.20,276.79 L396.72,282.19 L389.68,282.19 Z" fill="#1f63e6"/><path d="M414.80,273.30 L419.30,280.20 L410.30,280.20 Z" fill="#fff" stroke="#1f63e6" stroke-width="1.3"/><path d="M414.80,273.30 L418.32,278.70 L411.28,278.70 Z" fill="#1f63e6"/><path d="M436.40,265.82 L440.90,272.72 L431.90,272.72 Z" fill="#fff" stroke="#1f63e6" stroke-width="1.3"/><path d="M436.40,265.82 L439.92,271.22 L432.88,271.22 Z" fill="#1f63e6"/><path d="M458.00,247.40 L462.50,254.30 L453.50,254.30 Z" fill="#fff" stroke="#1f63e6" stroke-width="1.3"/><path d="M458.00,247.40 L461.52,252.80 L454.48,252.80 Z" fill="#1f63e6"/><path d="M479.60,225.44 L484.10,232.34 L475.10,232.34 Z" fill="#fff" stroke="#1f63e6" stroke-width="1.3"/><path d="M479.60,225.44 L483.12,230.84 L476.08,230.84 Z" fill="#1f63e6"/><path d="M501.20,191.47 L505.70,198.37 L496.70,198.37 Z" fill="#fff" stroke="#1f63e6" stroke-width="1.3"/><path d="M501.20,191.47 L504.72,196.87 L497.68,196.87 Z" fill="#1f63e6"/><path d="M86.70,70.97 L94.90,70.97 L90.80,77.97 Z" fill="#fff" stroke="#20a656" stroke-width="1.3"/><path d="M86.70,70.97 L94.90,70.97 L93.53,73.30 L88.07,73.30 Z" fill="#20a656"/><path d="M108.30,148.53 L116.50,148.53 L112.40,155.53 Z" fill="#fff" stroke="#20a656" stroke-width="1.3"/><path d="M108.30,148.53 L116.50,148.53 L115.13,150.86 L109.67,150.86 Z" fill="#20a656"/><path d="M129.90,178.75 L138.10,178.75 L134.00,185.75 Z" fill="#fff" stroke="#20a656" stroke-width="1.3"/><path d="M129.90,178.75 L138.10,178.75 L136.73,181.08 L131.27,181.08 Z" fill="#20a656"/><path d="M151.50,202.05 L159.70,202.05 L155.60,209.05 Z" fill="#fff" stroke="#20a656" stroke-width="1.3"/><path d="M151.50,202.05 L159.70,202.05 L158.33,204.39 L152.87,204.39 Z" fill="#20a656"/><path d="M173.10,219.53 L181.30,219.53 L177.20,226.53 Z" fill="#fff" stroke="#20a656" stroke-width="1.3"/><path d="M173.10,219.53 L181.30,219.53 L179.93,221.86 L174.47,221.86 Z" fill="#20a656"/><path d="M194.70,231.52 L202.90,231.52 L198.80,238.52 Z" fill="#fff" stroke="#20a656" stroke-width="1.3"/><path d="M194.70,231.52 L202.90,231.52 L201.53,233.85 L196.07,233.85 Z" fill="#20a656"/><path d="M216.30,241.99 L224.50,241.99 L220.40,248.99 Z" fill="#fff" stroke="#20a656" stroke-width="1.3"/><path d="M216.30,241.99 L224.50,241.99 L223.13,244.32 L217.67,244.32 Z" fill="#20a656"/><path d="M237.90,247.47 L246.10,247.47 L242.00,254.47 Z" fill="#fff" stroke="#20a656" stroke-width="1.3"/><path d="M237.90,247.47 L246.10,247.47 L244.73,249.80 L239.27,249.80 Z" fill="#20a656"/><path d="M259.50,254.40 L267.70,254.40 L263.60,261.40 Z" fill="#fff" stroke="#20a656" stroke-width="1.3"/><path d="M259.50,254.40 L267.70,254.40 L266.33,256.73 L260.87,256.73 Z" fill="#20a656"/><path d="M281.10,255.71 L289.30,255.71 L285.20,262.71 Z" fill="#fff" stroke="#20a656" stroke-width="1.3"/><path d="M281.10,255.71 L289.30,255.71 L287.93,258.05 L282.47,258.05 Z" fill="#20a656"/><path d="M302.70,262.00 L310.90,262.00 L306.80,269.00 Z" fill="#fff" stroke="#20a656" stroke-width="1.3"/><path d="M302.70,262.00 L310.90,262.00 L309.53,264.33 L304.07,264.33 Z" fill="#20a656"/><path d="M324.30,262.03 L332.50,262.03 L328.40,269.03 Z" fill="#fff" stroke="#20a656" stroke-width="1.3"/><path d="M324.30,262.03 L332.50,262.03 L331.13,264.36 L325.67,264.36 Z" fill="#20a656"/><path d="M345.90,261.97 L354.10,261.97 L350.00,268.97 Z" fill="#fff" stroke="#20a656" stroke-width="1.3"/><path d="M345.90,261.97 L354.10,261.97 L352.73,264.30 L347.27,264.30 Z" fill="#20a656"/><path d="M367.50,263.46 L375.70,263.46 L371.60,270.46 Z" fill="#fff" stroke="#20a656" stroke-width="1.3"/><path d="M367.50,263.46 L375.70,263.46 L374.33,265.79 L368.87,265.79 Z" fill="#20a656"/><path d="M389.10,266.20 L397.30,266.20 L393.20,273.20 Z" fill="#fff" stroke="#20a656" stroke-width="1.3"/><path d="M389.10,266.20 L397.30,266.20 L395.93,268.53 L390.47,268.53 Z" fill="#20a656"/><path d="M410.70,262.39 L418.90,262.39 L414.80,269.39 Z" fill="#fff" stroke="#20a656" stroke-width="1.3"/><path d="M410.70,262.39 L418.90,262.39 L417.53,264.72 L412.07,264.72 Z" fill="#20a656"/><path d="M432.30,251.40 L440.50,251.40 L436.40,258.40 Z" fill="#fff" stroke="#20a656" stroke-width="1.3"/><path d="M432.30,251.40 L440.50,251.40 L439.13,253.74 L433.67,253.74 Z" fill="#20a656"/><path d="M453.90,236.80 L462.10,236.80 L458.00,243.80 Z" fill="#fff" stroke="#20a656" stroke-width="1.3"/><path d="M453.90,236.80 L462.10,236.80 L460.73,239.13 L455.27,239.13 Z" fill="#20a656"/><path d="M475.50,215.30 L483.70,215.30 L479.60,222.30 Z" fill="#fff" stroke="#20a656" stroke-width="1.3"/><path d="M475.50,215.30 L483.70,215.30 L482.33,217.64 L476.87,217.64 Z" fill="#20a656"/><path d="M497.10,186.25 L505.30,186.25 L501.20,193.25 Z" fill="#fff" stroke="#20a656" stroke-width="1.3"/><path d="M497.10,186.25 L505.30,186.25 L503.93,188.58 L498.47,188.58 Z" fill="#20a656"/><path d="M90.80,79.40 L95.20,83.80 L90.80,88.20 L86.40,83.80 Z" fill="#fff" stroke="#a65ee6" stroke-width="1.3"/><path d="M90.80,79.40 L95.20,83.80 L86.40,83.80 Z" fill="#a65ee6"/><path d="M112.40,138.60 L116.80,143.00 L112.40,147.40 L108.00,143.00 Z" fill="#fff" stroke="#a65ee6" stroke-width="1.3"/><path d="M112.40,138.60 L116.80,143.00 L108.00,143.00 Z" fill="#a65ee6"/><path d="M134.00,165.38 L138.40,169.78 L134.00,174.18 L129.60,169.78 Z" fill="#fff" stroke="#a65ee6" stroke-width="1.3"/><path d="M134.00,165.38 L138.40,169.78 L129.60,169.78 Z" fill="#a65ee6"/><path d="M155.60,186.28 L160.00,190.68 L155.60,195.08 L151.20,190.68 Z" fill="#fff" stroke="#a65ee6" stroke-width="1.3"/><path d="M155.60,186.28 L160.00,190.68 L151.20,190.68 Z" fill="#a65ee6"/><path d="M177.20,203.77 L181.60,208.17 L177.20,212.57 L172.80,208.17 Z" fill="#fff" stroke="#a65ee6" stroke-width="1.3"/><path d="M177.20,203.77 L181.60,208.17 L172.80,208.17 Z" fill="#a65ee6"/><path d="M198.80,216.76 L203.20,221.16 L198.80,225.56 L194.40,221.16 Z" fill="#fff" stroke="#a65ee6" stroke-width="1.3"/><path d="M198.80,216.76 L203.20,221.16 L194.40,221.16 Z" fill="#a65ee6"/><path d="M220.40,227.50 L224.80,231.90 L220.40,236.30 L216.00,231.90 Z" fill="#fff" stroke="#a65ee6" stroke-width="1.3"/><path d="M220.40,227.50 L224.80,231.90 L216.00,231.90 Z" fill="#a65ee6"/><path d="M242.00,235.20 L246.40,239.60 L242.00,244.00 L237.60,239.60 Z" fill="#fff" stroke="#a65ee6" stroke-width="1.3"/><path d="M242.00,235.20 L246.40,239.60 L237.60,239.60 Z" fill="#a65ee6"/><path d="M263.60,239.56 L268.00,243.96 L263.60,248.36 L259.20,243.96 Z" fill="#fff" stroke="#a65ee6" stroke-width="1.3"/><path d="M263.60,239.56 L268.00,243.96 L259.20,243.96 Z" fill="#a65ee6"/><path d="M285.20,244.73 L289.60,249.13 L285.20,253.53 L280.80,249.13 Z" fill="#fff" stroke="#a65ee6" stroke-width="1.3"/><path d="M285.20,244.73 L289.60,249.13 L280.80,249.13 Z" fill="#a65ee6"/><path d="M306.80,249.32 L311.20,253.72 L306.80,258.12 L302.40,253.72 Z" fill="#fff" stroke="#a65ee6" stroke-width="1.3"/><path d="M306.80,249.32 L311.20,253.72 L302.40,253.72 Z" fill="#a65ee6"/><path d="M328.40,248.78 L332.80,253.18 L328.40,257.58 L324.00,253.18 Z" fill="#fff" stroke="#a65ee6" stroke-width="1.3"/><path d="M328.40,248.78 L332.80,253.18 L324.00,253.18 Z" fill="#a65ee6"/><path d="M350.00,249.77 L354.40,254.17 L350.00,258.57 L345.60,254.17 Z" fill="#fff" stroke="#a65ee6" stroke-width="1.3"/><path d="M350.00,249.77 L354.40,254.17 L345.60,254.17 Z" fill="#a65ee6"/><path d="M371.60,251.01 L376.00,255.41 L371.60,259.81 L367.20,255.41 Z" fill="#fff" stroke="#a65ee6" stroke-width="1.3"/><path d="M371.60,251.01 L376.00,255.41 L367.20,255.41 Z" fill="#a65ee6"/><path d="M393.20,251.14 L397.60,255.54 L393.20,259.94 L388.80,255.54 Z" fill="#fff" stroke="#a65ee6" stroke-width="1.3"/><path d="M393.20,251.14 L397.60,255.54 L388.80,255.54 Z" fill="#a65ee6"/><path d="M414.80,243.51 L419.20,247.91 L414.80,252.31 L410.40,247.91 Z" fill="#fff" stroke="#a65ee6" stroke-width="1.3"/><path d="M414.80,243.51 L419.20,247.91 L410.40,247.91 Z" fill="#a65ee6"/><path d="M436.40,234.38 L440.80,238.78 L436.40,243.18 L432.00,238.78 Z" fill="#fff" stroke="#a65ee6" stroke-width="1.3"/><path d="M436.40,234.38 L440.80,238.78 L432.00,238.78 Z" fill="#a65ee6"/><path d="M458.00,219.27 L462.40,223.67 L458.00,228.07 L453.60,223.67 Z" fill="#fff" stroke="#a65ee6" stroke-width="1.3"/><path d="M458.00,219.27 L462.40,223.67 L453.60,223.67 Z" fill="#a65ee6"/><path d="M479.60,201.16 L484.00,205.56 L479.60,209.96 L475.20,205.56 Z" fill="#fff" stroke="#a65ee6" stroke-width="1.3"/><path d="M479.60,201.16 L484.00,205.56 L475.20,205.56 Z" fill="#a65ee6"/><path d="M501.20,179.40 L505.60,183.80 L501.20,188.20 L496.80,183.80 Z" fill="#fff" stroke="#a65ee6" stroke-width="1.3"/><path d="M501.20,179.40 L505.60,183.80 L496.80,183.80 Z" fill="#a65ee6"/><path d="M86.00,110.20 L93.20,106.30 L93.20,114.10 Z" fill="#fff" stroke="#d9a014" stroke-width="1.3"/><path d="M86.00,110.20 L93.20,106.30 L93.20,110.20 Z" fill="#d9a014"/><path d="M107.60,136.29 L114.80,132.39 L114.80,140.19 Z" fill="#fff" stroke="#d9a014" stroke-width="1.3"/><path d="M107.60,136.29 L114.80,132.39 L114.80,136.29 Z" fill="#d9a014"/><path d="M129.20,156.27 L136.40,152.37 L136.40,160.17 Z" fill="#fff" stroke="#d9a014" stroke-width="1.3"/><path d="M129.20,156.27 L136.40,152.37 L136.40,156.27 Z" fill="#d9a014"/><path d="M150.80,173.71 L158.00,169.81 L158.00,177.61 Z" fill="#fff" stroke="#d9a014" stroke-width="1.3"/><path d="M150.80,173.71 L158.00,169.81 L158.00,173.71 Z" fill="#d9a014"/><path d="M172.40,188.53 L179.60,184.63 L179.60,192.43 Z" fill="#fff" stroke="#d9a014" stroke-width="1.3"/><path d="M172.40,188.53 L179.60,184.63 L179.60,188.53 Z" fill="#d9a014"/><path d="M194.00,201.76 L201.20,197.86 L201.20,205.66 Z" fill="#fff" stroke="#d9a014" stroke-width="1.3"/><path d="M194.00,201.76 L201.20,197.86 L201.20,201.76 Z" fill="#d9a014"/><path d="M215.60,212.06 L222.80,208.16 L222.80,215.96 Z" fill="#fff" stroke="#d9a014" stroke-width="1.3"/><path d="M215.60,212.06 L222.80,208.16 L222.80,212.06 Z" fill="#d9a014"/><path d="M237.20,222.45 L244.40,218.55 L244.40,226.35 Z" fill="#fff" stroke="#d9a014" stroke-width="1.3"/><path d="M237.20,222.45 L244.40,218.55 L244.40,222.45 Z" fill="#d9a014"/><path d="M258.80,229.32 L266.00,225.42 L266.00,233.22 Z" fill="#fff" stroke="#d9a014" stroke-width="1.3"/><path d="M258.80,229.32 L266.00,225.42 L266.00,229.32 Z" fill="#d9a014"/><path d="M280.40,232.63 L287.60,228.73 L287.60,236.53 Z" fill="#fff" stroke="#d9a014" stroke-width="1.3"/><path d="M280.40,232.63 L287.60,228.73 L287.60,232.63 Z" fill="#d9a014"/><path d="M302.00,242.10 L309.20,238.20 L309.20,246.00 Z" fill="#fff" stroke="#d9a014" stroke-width="1.3"/><path d="M302.00,242.10 L309.20,238.20 L309.20,242.10 Z" fill="#d9a014"/><path d="M323.60,237.28 L330.80,233.38 L330.80,241.18 Z" fill="#fff" stroke="#d9a014" stroke-width="1.3"/><path d="M323.60,237.28 L330.80,233.38 L330.80,237.28 Z" fill="#d9a014"/><path d="M345.20,239.28 L352.40,235.38 L352.40,243.18 Z" fill="#fff" stroke="#d9a014" stroke-width="1.3"/><path d="M345.20,239.28 L352.40,235.38 L352.40,239.28 Z" fill="#d9a014"/><path d="M366.80,237.65 L374.00,233.75 L374.00,241.55 Z" fill="#fff" stroke="#d9a014" stroke-width="1.3"/><path d="M366.80,237.65 L374.00,233.75 L374.00,237.65 Z" fill="#d9a014"/><path d="M388.40,235.35 L395.60,231.45 L395.60,239.25 Z" fill="#fff" stroke="#d9a014" stroke-width="1.3"/><path d="M388.40,235.35 L395.60,231.45 L395.60,235.35 Z" fill="#d9a014"/><path d="M410.00,229.83 L417.20,225.93 L417.20,233.73 Z" fill="#fff" stroke="#d9a014" stroke-width="1.3"/><path d="M410.00,229.83 L417.20,225.93 L417.20,229.83 Z" fill="#d9a014"/><path d="M431.60,221.55 L438.80,217.65 L438.80,225.45 Z" fill="#fff" stroke="#d9a014" stroke-width="1.3"/><path d="M431.60,221.55 L438.80,217.65 L438.80,221.55 Z" fill="#d9a014"/><path d="M453.20,210.55 L460.40,206.65 L460.40,214.45 Z" fill="#fff" stroke="#d9a014" stroke-width="1.3"/><path d="M453.20,210.55 L460.40,206.65 L460.40,210.55 Z" fill="#d9a014"/><path d="M474.80,200.55 L482.00,196.65 L482.00,204.45 Z" fill="#fff" stroke="#d9a014" stroke-width="1.3"/><path d="M474.80,200.55 L482.00,196.65 L482.00,200.55 Z" fill="#d9a014"/><path d="M496.40,189.20 L503.60,185.30 L503.60,193.10 Z" fill="#fff" stroke="#d9a014" stroke-width="1.3"/><path d="M496.40,189.20 L503.60,185.30 L503.60,189.20 Z" fill="#d9a014"/></g><rect x="90.0" y="17.6" width="432.0" height="347.4" fill="none" stroke="#000" stroke-width="2"/><text x="90.00" y="394.6" font-family="Liberation Serif, Times New Roman, serif" stroke="#000" stroke-width="0.15" font-size="27.6" text-anchor="middle" fill="#000">0</text><text x="162.00" y="394.6" font-family="Liberation Serif, Times New Roman, serif" stroke="#000" stroke-width="0.15" font-size="27.6" text-anchor="middle" fill="#000">30</text><text x="234.00" y="394.6" font-family="Liberation Serif, Times New Roman, serif" stroke="#000" stroke-width="0.15" font-size="27.6" text-anchor="middle" fill="#000">60</text><text x="306.00" y="394.6" font-family="Liberation Serif, Times New Roman, serif" stroke="#000" stroke-width="0.15" font-size="27.6" text-anchor="middle" fill="#000">90</text><text x="378.00" y="394.6" font-family="Liberation Serif, Times New Roman, serif" stroke="#000" stroke-width="0.15" font-size="27.6" text-anchor="middle" fill="#000">120</text><text x="450.00" y="394.6" font-family="Liberation Serif, Times New Roman, serif" stroke="#000" stroke-width="0.15" font-size="27.6" text-anchor="middle" fill="#000">150</text><text x="522.00" y="394.6" font-family="Liberation Serif, Times New Roman, serif" stroke="#000" stroke-width="0.15" font-size="27.6" text-anchor="middle" fill="#000">180</text><text transform="translate(80.9,376.40) scale(0.95,1.0)" font-family="Liberation Serif, Times New Roman, serif" stroke="#000" stroke-width="0.15" font-size="27.6" text-anchor="end" fill="#000">10<tspan font-size="14.8" dy="-13.9">-6</tspan></text><text transform="translate(80.9,306.92) scale(0.95,1.0)" font-family="Liberation Serif, Times New Roman, serif" stroke="#000" stroke-width="0.15" font-size="27.6" text-anchor="end" fill="#000">10<tspan font-size="14.8" dy="-13.9">-4</tspan></text><text transform="translate(80.9,237.44) scale(0.95,1.0)" font-family="Liberation Serif, Times New Roman, serif" stroke="#000" stroke-width="0.15" font-size="27.6" text-anchor="end" fill="#000">10<tspan font-size="14.8" dy="-13.9">-2</tspan></text><text transform="translate(80.9,167.96) scale(0.95,1.0)" font-family="Liberation Serif, Times New Roman, serif" stroke="#000" stroke-width="0.15" font-size="27.6" text-anchor="end" fill="#000">10<tspan font-size="14.8" dy="-13.9">0</tspan></text><text transform="translate(80.9,98.48) scale(0.95,1.0)" font-family="Liberation Serif, Times New Roman, serif" stroke="#000" stroke-width="0.15" font-size="27.6" text-anchor="end" fill="#000">10<tspan font-size="14.8" dy="-13.9">2</tspan></text><text transform="translate(80.9,29.00) scale(0.95,1.0)" font-family="Liberation Serif, Times New Roman, serif" stroke="#000" stroke-width="0.15" font-size="27.6" text-anchor="end" fill="#000">10<tspan font-size="14.8" dy="-13.9">4</tspan></text><text x="148.3" y="440.6" font-family="Liberation Serif, Times New Roman, serif" stroke="#000" stroke-width="0.15" font-size="27.5" fill="#000">Scattering Angle,</text><text x="339.5" y="440.6" font-family="Liberation Serif, Times New Roman, serif" stroke="#000" stroke-width="0.15" font-size="28.5" font-style="italic" fill="#000">Θ</text><text x="363.9" y="440.6" font-family="Liberation Serif, Times New Roman, serif" stroke="#000" stroke-width="0.15" font-size="26.8" fill="#000">(degrees)</text><text transform="translate(26.6,364.6) rotate(-90)" x="0" y="0" font-family="Liberation Serif, Times New Roman, serif" stroke="#000" stroke-width="0.15" font-size="27.05" fill="#000">Scattering Light Distribution</text><line x1="257.2" y1="43.10" x2="299.4" y2="43.10" stroke="#3a3a3a" stroke-width="1.8"/><rect x="275.15" y="39.95" width="6.30" height="6.30" fill="#fff" stroke="#3a3a3a" stroke-width="1.3"/><rect x="275.15" y="39.95" width="6.30" height="3.15" fill="#3a3a3a"/><text x="305.2" y="49.30" font-family="Liberation Serif, Times New Roman, serif" stroke="#000" stroke-width="0.15" font-size="24.3" fill="#000">1 mm</text><line x1="257.2" y1="73.60" x2="292.2" y2="73.60" stroke="#f02d2d" stroke-width="1.8" stroke-dasharray="7.5 6.3"/><circle cx="278.30" cy="73.60" r="3.75" fill="#fff" stroke="#f02d2d" stroke-width="1.3"/><path d="M274.55,73.60 A3.75,3.75 0 0 1 282.05,73.60 Z" fill="#f02d2d"/><text x="305.2" y="79.80" font-family="Liberation Serif, Times New Roman, serif" stroke="#000" stroke-width="0.15" font-size="24.3" fill="#000">2 mm</text><line x1="257.5" y1="104.10" x2="293" y2="104.10" stroke="#1f63e6" stroke-width="1.8" stroke-dasharray="2 6.3"/><path d="M278.30,99.50 L282.80,106.40 L273.80,106.40 Z" fill="#fff" stroke="#1f63e6" stroke-width="1.3"/><path d="M278.30,99.50 L281.82,104.90 L274.78,104.90 Z" fill="#1f63e6"/><text x="305.2" y="110.30" font-family="Liberation Serif, Times New Roman, serif" stroke="#000" stroke-width="0.15" font-size="24.3" fill="#000">5 mm</text><line x1="257.5" y1="134.60" x2="299" y2="134.60" stroke="#20a656" stroke-width="1.8" stroke-dasharray="6.1 5.2 1.8 4.0"/><path d="M274.20,132.27 L282.40,132.27 L278.30,139.27 Z" fill="#fff" stroke="#20a656" stroke-width="1.3"/><path d="M274.20,132.27 L282.40,132.27 L281.03,134.60 L275.57,134.60 Z" fill="#20a656"/><text x="305.2" y="140.80" font-family="Liberation Serif, Times New Roman, serif" stroke="#000" stroke-width="0.15" font-size="24.3" fill="#000">10 mm</text><line x1="257.5" y1="165.10" x2="294.6" y2="165.10" stroke="#a65ee6" stroke-width="1.8" stroke-dasharray="6.1 3.6 1.7 3.6 1.7 3.6"/><path d="M278.30,160.70 L282.70,165.10 L278.30,169.50 L273.90,165.10 Z" fill="#fff" stroke="#a65ee6" stroke-width="1.3"/><path d="M278.30,160.70 L282.70,165.10 L273.90,165.10 Z" fill="#a65ee6"/><text x="305.2" y="171.30" font-family="Liberation Serif, Times New Roman, serif" stroke="#000" stroke-width="0.15" font-size="24.3" fill="#000">20 mm</text><line x1="257.1" y1="195.60" x2="296.8" y2="195.60" stroke="#d9a014" stroke-width="1.8" stroke-dasharray="2.3 1.65"/><path d="M273.50,195.60 L280.70,191.70 L280.70,199.50 Z" fill="#fff" stroke="#d9a014" stroke-width="1.3"/><path d="M273.50,195.60 L280.70,191.70 L280.70,195.60 Z" fill="#d9a014"/><text x="305.2" y="201.80" font-family="Liberation Serif, Times New Roman, serif" stroke="#000" stroke-width="0.15" font-size="24.3" fill="#000">50 mm</text></svg></body></html>
